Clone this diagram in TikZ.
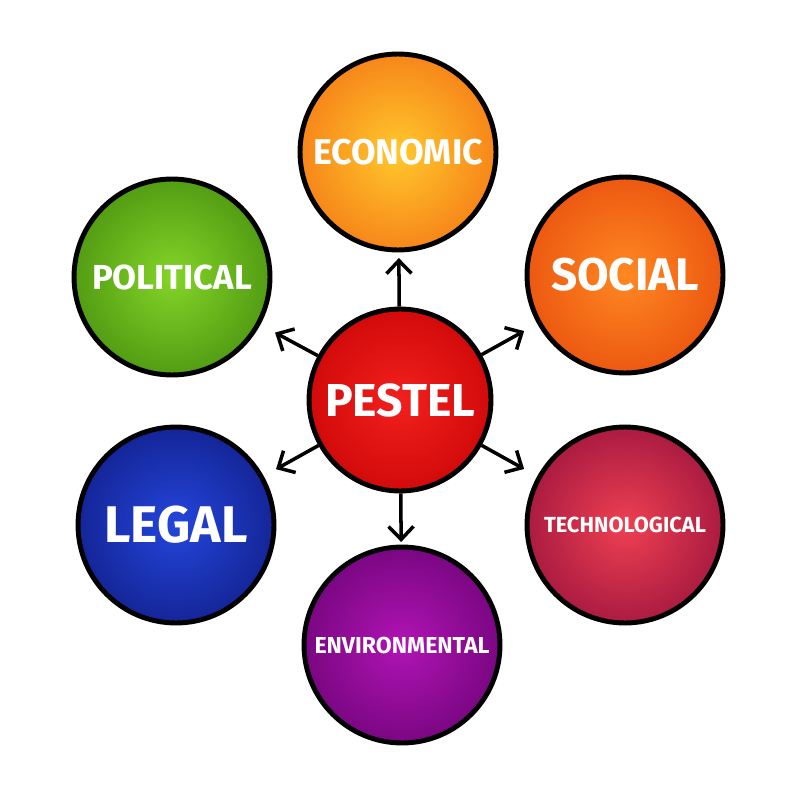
\documentclass[tikz,border=0pt]{standalone}
\usepackage{fontspec}
\setmainfont{Fira Sans}
\usetikzlibrary{arrows.meta, calc}

\newcommand{\factorlabel}[2]{\resizebox{#1}{!}{\bfseries #2}}

% Colours of the six factors
\definecolor{ecoIn}{RGB}{255,200,44}   \definecolor{ecoOut}{RGB}{242,100,16}
\definecolor{socIn}{RGB}{255,136,34}   \definecolor{socOut}{RGB}{226,64,8}
\definecolor{polIn}{RGB}{132,212,40}   \definecolor{polOut}{RGB}{56,128,8}
\definecolor{legIn}{RGB}{36,70,220}    \definecolor{legOut}{RGB}{12,20,116}
\definecolor{tecIn}{RGB}{238,64,82}    \definecolor{tecOut}{RGB}{136,8,56}
\definecolor{envIn}{RGB}{176,20,180}   \definecolor{envOut}{RGB}{94,0,104}
\definecolor{pesIn}{RGB}{242,32,30}    \definecolor{pesOut}{RGB}{192,0,0}
\colorlet{rimIn}{white}
\colorlet{rimOut}{black}

% Fade most of the way to the rim
\pgfdeclareradialshading[rimIn,rimOut]{rim}{\pgfpoint{0bp}{0bp}}{%
    color(0bp)=(rimIn); color(38bp)=(rimOut); color(50bp)=(rimOut)}

\begin{document}
\begin{tikzpicture}[
        x=0.02cm, y=-0.02cm,
        every node/.style={circle, draw=black, line width=2.8pt, minimum size=3.92cm,
            inner sep=0pt, text=white},
        hub/.style={minimum size=3.64cm},
        tint/.style 2 args={/utils/exec={\colorlet{rimIn}{#1}\colorlet{rimOut}{#2}}, shading=rim},
        link/.style={line width=2pt, -{Straight Barb[length=2.6mm, width=5mm]}}
    ]
        \useasboundingbox (0,0) rectangle (800,800);

        % Centre and the six factors
        \node[hub, tint={pesIn}{pesOut}] (pestel) at (400,400) {\factorlabel{3.0cm}{PESTEL}};
        \node[tint={ecoIn}{ecoOut}] (economic) at (398,152) {\factorlabel{3.4cm}{ECONOMIC}};
        \node[tint={socIn}{socOut}] (social) at (625,275) {\factorlabel{2.96cm}{SOCIAL}};
        \node[tint={tecIn}{tecOut}] (technological) at (625,525) {\factorlabel{3.24cm}{TECHNOLOGICAL}};
        \node[tint={envIn}{envOut}] (environmental) at (402,645) {\factorlabel{3.5cm}{ENVIRONMENTAL}};
        \node[tint={legIn}{legOut}] (legal) at (176,525) {\factorlabel{2.86cm}{LEGAL}};
        \node[tint={polIn}{polOut}] (political) at (172,277) {\factorlabel{3.2cm}{POLITICAL}};

        % Short arrows out of the centre
        \foreach \factor in {economic, social, technological, environmental, legal, political}
            \draw[link] (pestel) -- ($(pestel.center)!2.84cm!(\factor.center)$);
    \end{tikzpicture}
\end{document}
